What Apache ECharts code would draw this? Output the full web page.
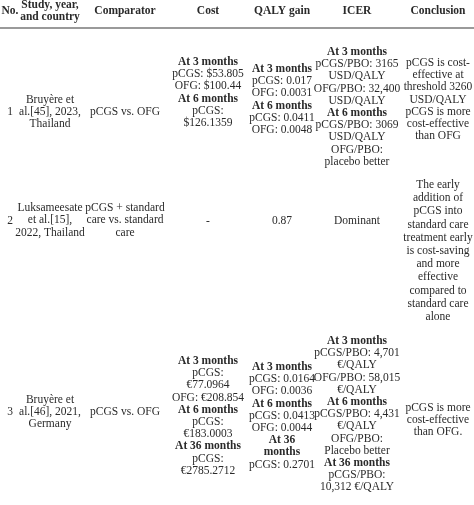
<!DOCTYPE html>
<html lang="en">
<head>
<meta charset="UTF-8">
<title>Table</title>
<script src="https://cdn.jsdelivr.net/npm/echarts@6/dist/echarts.min.js"></script>
<style>html,body{margin:0;background:#fff}</style>
</head>
<body>
<div id="main" style="width:474px;height:505px;"></div>
<script type="text/javascript">
// "**" marks a bold line
var headers = [['No.'], ['Study, year,', 'and country'], ['Comparator'], ['Cost'], ['QALY gain'], ['ICER'], ['Conclusion']];
var row1 = [
    ['1'],
    ['Bruyère et', 'al.[45], 2023,', 'Thailand'],
    ['pCGS vs. OFG'],
    ['**At 3 months', 'pCGS: $53.805', 'OFG: $100.44', '**At 6 months', 'pCGS:', '$126.1359'],
    ['**At 3 months', 'pCGS: 0.017', 'OFG: 0.0031', '**At 6 months', 'pCGS: 0.0411', 'OFG: 0.0048'],
    ['**At 3 months', 'pCGS/PBO: 3165', 'USD/QALY', 'OFG/PBO: 32,400', 'USD/QALY', '**At 6 months', 'pCGS/PBO: 3069', 'USD/QALY', 'OFG/PBO:', 'placebo better'],
    ['pCGS is cost-', 'effective at', 'threshold 3260', 'USD/QALY', 'pCGS is more', 'cost-effective', 'than OFG']
];
var row2 = [
    ['2'],
    ['Luksameesate', 'et al.[15],', '2022, Thailand'],
    ['pCGS + standard', 'care vs. standard', 'care'],
    ['-'],
    ['0.87'],
    ['Dominant'],
    ['The early', 'addition of', 'pCGS into', 'standard care', 'treatment early', 'is cost-saving', 'and more', 'effective', 'compared to', 'standard care', 'alone']
];
var row3 = [
    ['3'],
    ['Bruyère et', 'al.[46], 2021,', 'Germany'],
    ['pCGS vs. OFG'],
    ['**At 3 months', 'pCGS:', '€77.0964', 'OFG: €208.854', '**At 6 months', 'pCGS:', '€183.0003', '**At 36 months', 'pCGS:', '€2785.2712'],
    ['**At 3 months', 'pCGS: 0.0164', 'OFG: 0.0036', '**At 6 months', 'pCGS: 0.0413', 'OFG: 0.0044', '**At 36', '**months', 'pCGS: 0.2701'],
    ['**At 3 months', 'pCGS/PBO: 4,701', '€/QALY', 'OFG/PBO: 58,015', '€/QALY', '**At 6 months', 'pCGS/PBO: 4,431', '€/QALY', 'OFG/PBO:', 'Placebo better', '**At 36 months', 'pCGS/PBO:', '10,312 €/QALY'],
    ['pCGS is more', 'cost-effective', 'than OFG.']
];

var colX = [10, 50, 125, 208, 282, 357, 438];
var rowsTop = [
    [112, 100, 112, 62, 69, 52, 63],
    [221, 208, 208, 221, 221, 221, 185],
    [412, 400, 412, 361, 367, 341, 408]
];
var rowsGap = [12.2, 12.4, 12.2];
var rowsConclGap = [12.2, 13.2, 12.2];

var font = '"Liberation Serif", "DejaVu Serif", serif';
var ink = '#2a2a2a';
var elements = [];
headers.forEach(function (h, i) {
    h.forEach(function (t, k) {
        elements.push({
            type: 'text', x: colX[i], y: h.length === 1 ? 11 : 5 + k * 12.5,
            style: { text: t, fill: ink, font: 'bold 11.5px ' + font, align: 'center', verticalAlign: 'middle' }
        });
    });
});
elements.push({ type: 'rect', shape: { x: 0, y: 27, width: 474, height: 2 }, style: { fill: '#9a9a9a' } });

[row1, row2, row3].forEach(function (row, r) {
    row.forEach(function (lines, c) {
        var gap = c === 6 ? rowsConclGap[r] : rowsGap[r];
        lines.forEach(function (t, k) {
            var bold = t.indexOf('**') === 0;
            elements.push({
                type: 'text', x: colX[c], y: rowsTop[r][c] + k * gap,
                style: {
                    text: bold ? t.slice(2) : t, fill: ink,
                    font: (bold ? 'bold ' : '') + '11.5px ' + font,
                    align: 'center', verticalAlign: 'middle'
                }
            });
        });
    });
});

var myChart = echarts.init(document.getElementById('main'));
myChart.setOption({ backgroundColor: '#fff', graphic: { elements: elements } });
</script>
</body>
</html>
